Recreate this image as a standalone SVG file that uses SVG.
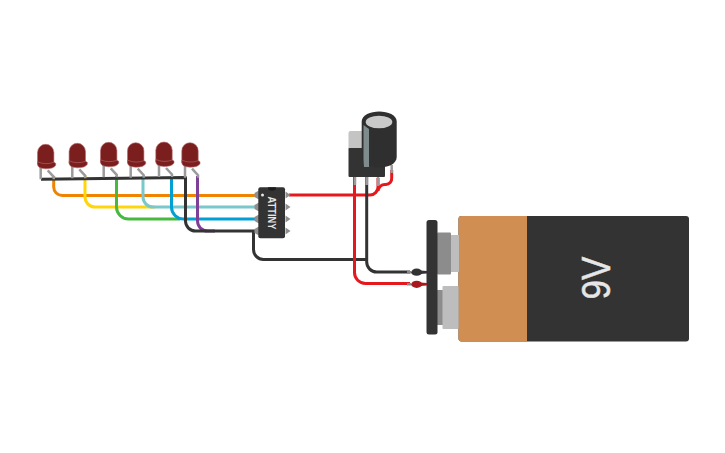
<svg xmlns="http://www.w3.org/2000/svg" width="725" height="453" viewBox="0 0 725 453">
<style>
.w{fill:none;stroke-width:3;stroke-linecap:butt;stroke-linejoin:round}
.lead{fill:none;stroke:#9b9b9b;stroke-width:2.500}
.led{fill:#7b1e1e;stroke:#b56a6a;stroke-width:.6}
.pin{fill:#8f8f8f}
.t{font-family:"Liberation Sans",Arial,sans-serif}
</style>
<defs>
<g id="ledshape">
<path class="lead" d="M-5 22V35M2 26L8 32.500V35"/>
<path class="led" d="M-8.200 20V8.200A8.200 8.200 0 0 1 8.200 8.200V20Z"/>
<path class="led" d="M-8.200 17.500Q0 21 8.200 18L10 19V21Q8 24.500 0 24.500Q-8.200 24 -8.200 20Z"/>
</g>
<g id="pinL"><path class="pin" d="M0 -4H2V4H0L-3.500 2V-2Z"/></g>
<g id="pinR"><path class="pin" d="M0 -3.500L5 0L0 3.500Z"/></g>
</defs>
<g id="battery">
<rect x="458.500" y="216" width="230.500" height="125.500" rx="3" fill="#333"/>
<path d="M527 216H461.500A3 3 0 0 0 458.500 219V338.500A3 3 0 0 0 461.500 341.500H527Z" fill="#d08e52"/>
<rect x="449" y="235" width="10" height="37" fill="#bdbdbd"/>
<rect x="437" y="232.500" width="14" height="42" rx="1" fill="#8c8c8c"/>
<rect x="437" y="290" width="6" height="35" fill="#8c8c8c"/>
<rect x="442.500" y="286" width="16" height="43" rx="1" fill="#bdbdbd"/>
<rect x="426.500" y="220" width="11" height="114.500" rx="2.500" fill="#333"/>
<text class="t" transform="translate(609.500 278) rotate(-90)" text-anchor="middle" font-size="41" fill="#e6e6e6" stroke="#e6e6e6" stroke-width=".5" textLength="43" lengthAdjust="spacingAndGlyphs">9V</text>
</g>
<g id="connectors">
<path class="w" stroke="#f08400" d="M53.700 176V187A8.500 8.500 0 0 0 62.200 195.500H255"/>
<path class="w" stroke="#ffd60a" d="M85 176V197A10 10 0 0 0 95 207H155"/>
<path class="w" stroke="#46b93e" d="M116.500 176V207A12 12 0 0 0 128.500 219H180"/>
<path class="w" stroke="#78c8cc" d="M143 176V197A10 10 0 0 0 153 207H255"/>
<path class="w" stroke="#009fd4" d="M171.500 176V207A12 12 0 0 0 183.500 219H255"/>
<path class="w" stroke="#7f3f98" d="M197.500 176V221A10 10 0 0 0 207.500 231H215"/>
<path class="w" stroke="#333" d="M41 179.300L185.500 177.500V221A10 10 0 0 0 195.500 231H255"/>
<path class="w" stroke="#333" d="M253.500 231V249A10 10 0 0 0 263.500 259.500H366"/>
<path class="w" stroke="#e5181e" d="M289 195H370A8 8 0 0 0 378 187V178"/>
<path class="w" stroke="#e5181e" d="M378 191A7 7 0 0 1 385 184.500H386A6 6 0 0 0 391.700 178V170"/>
<path class="w" stroke="#e5181e" d="M354.500 177V272.500A11 11 0 0 0 365.500 283.500H410"/>
<path class="w" stroke="#333" d="M366.700 177V262A10 10 0 0 0 376.700 272H410"/>
</g>
<g id="led1"><use href="#ledshape" x="45.700" y="144.300"/></g>
<g id="led2"><use href="#ledshape" x="77.300" y="143.300"/></g>
<g id="led3"><use href="#ledshape" x="108.700" y="142.300"/></g>
<g id="led4"><use href="#ledshape" x="135.700" y="142.700"/></g>
<g id="led5"><use href="#ledshape" x="164" y="142"/></g>
<g id="led6"><use href="#ledshape" x="190" y="142.700"/></g>
<g id="attiny">
<use href="#pinL" x="258" y="195"/><use href="#pinL" x="258" y="207"/><use href="#pinL" x="258" y="219"/><use href="#pinL" x="258" y="231"/>
<use href="#pinR" x="285.500" y="195"/><use href="#pinR" x="285.500" y="207"/><use href="#pinR" x="285.500" y="219"/><use href="#pinR" x="285.500" y="231"/>
<rect x="258.300" y="187.300" width="26.700" height="51" rx="2" fill="#333"/>
<path d="M268 187.300A4 3.500 0 0 0 276 187.300Z" fill="#1c1c1c"/>
<circle cx="262.500" cy="195" r="1.500" fill="#e6e6e6"/>
<text class="t" transform="translate(267.800 213) rotate(90)" text-anchor="middle" font-size="11" font-weight="bold" fill="#e6e6e6" textLength="33" lengthAdjust="spacingAndGlyphs">ATTINY</text>
</g>
<g id="regulator">
<path class="lead" d="M355 176V185M366.700 176V185M378 176V186"/>
<rect x="348.500" y="131" width="26" height="20" rx="2" fill="#c4c4c4"/>
<rect x="348.500" y="148" width="36.500" height="29" rx="1" fill="#333"/>
</g>
<g id="capacitor">
<path class="lead" d="M391.700 165V173"/>
<path d="M361.700 121.500C361.700 108 396.700 108 396.700 121.500V157C396.700 171 361.700 171 361.700 157Z" fill="#2f2f2f"/>
<path d="M363.500 125V160L364 167H369V129Z" fill="#7f8c8d"/>
<ellipse cx="379" cy="122" rx="13.300" ry="6.300" fill="#c9c9c9"/>
</g>
<g id="snaps">
<rect x="407" y="271" width="4" height="2.500" fill="#888"/>
<ellipse cx="416.700" cy="272.200" rx="5.500" ry="3.600" fill="#333"/>
<path d="M420 270.500L427 271V273.500L420 274Z" fill="#333"/>
<rect x="407" y="283" width="4" height="2.500" fill="#888"/>
<ellipse cx="416.700" cy="284.300" rx="5.500" ry="3.600" fill="#a8181c"/>
<path d="M420 282.500L427 283V285.500L420 286Z" fill="#a8181c"/>
</g>
</svg>
